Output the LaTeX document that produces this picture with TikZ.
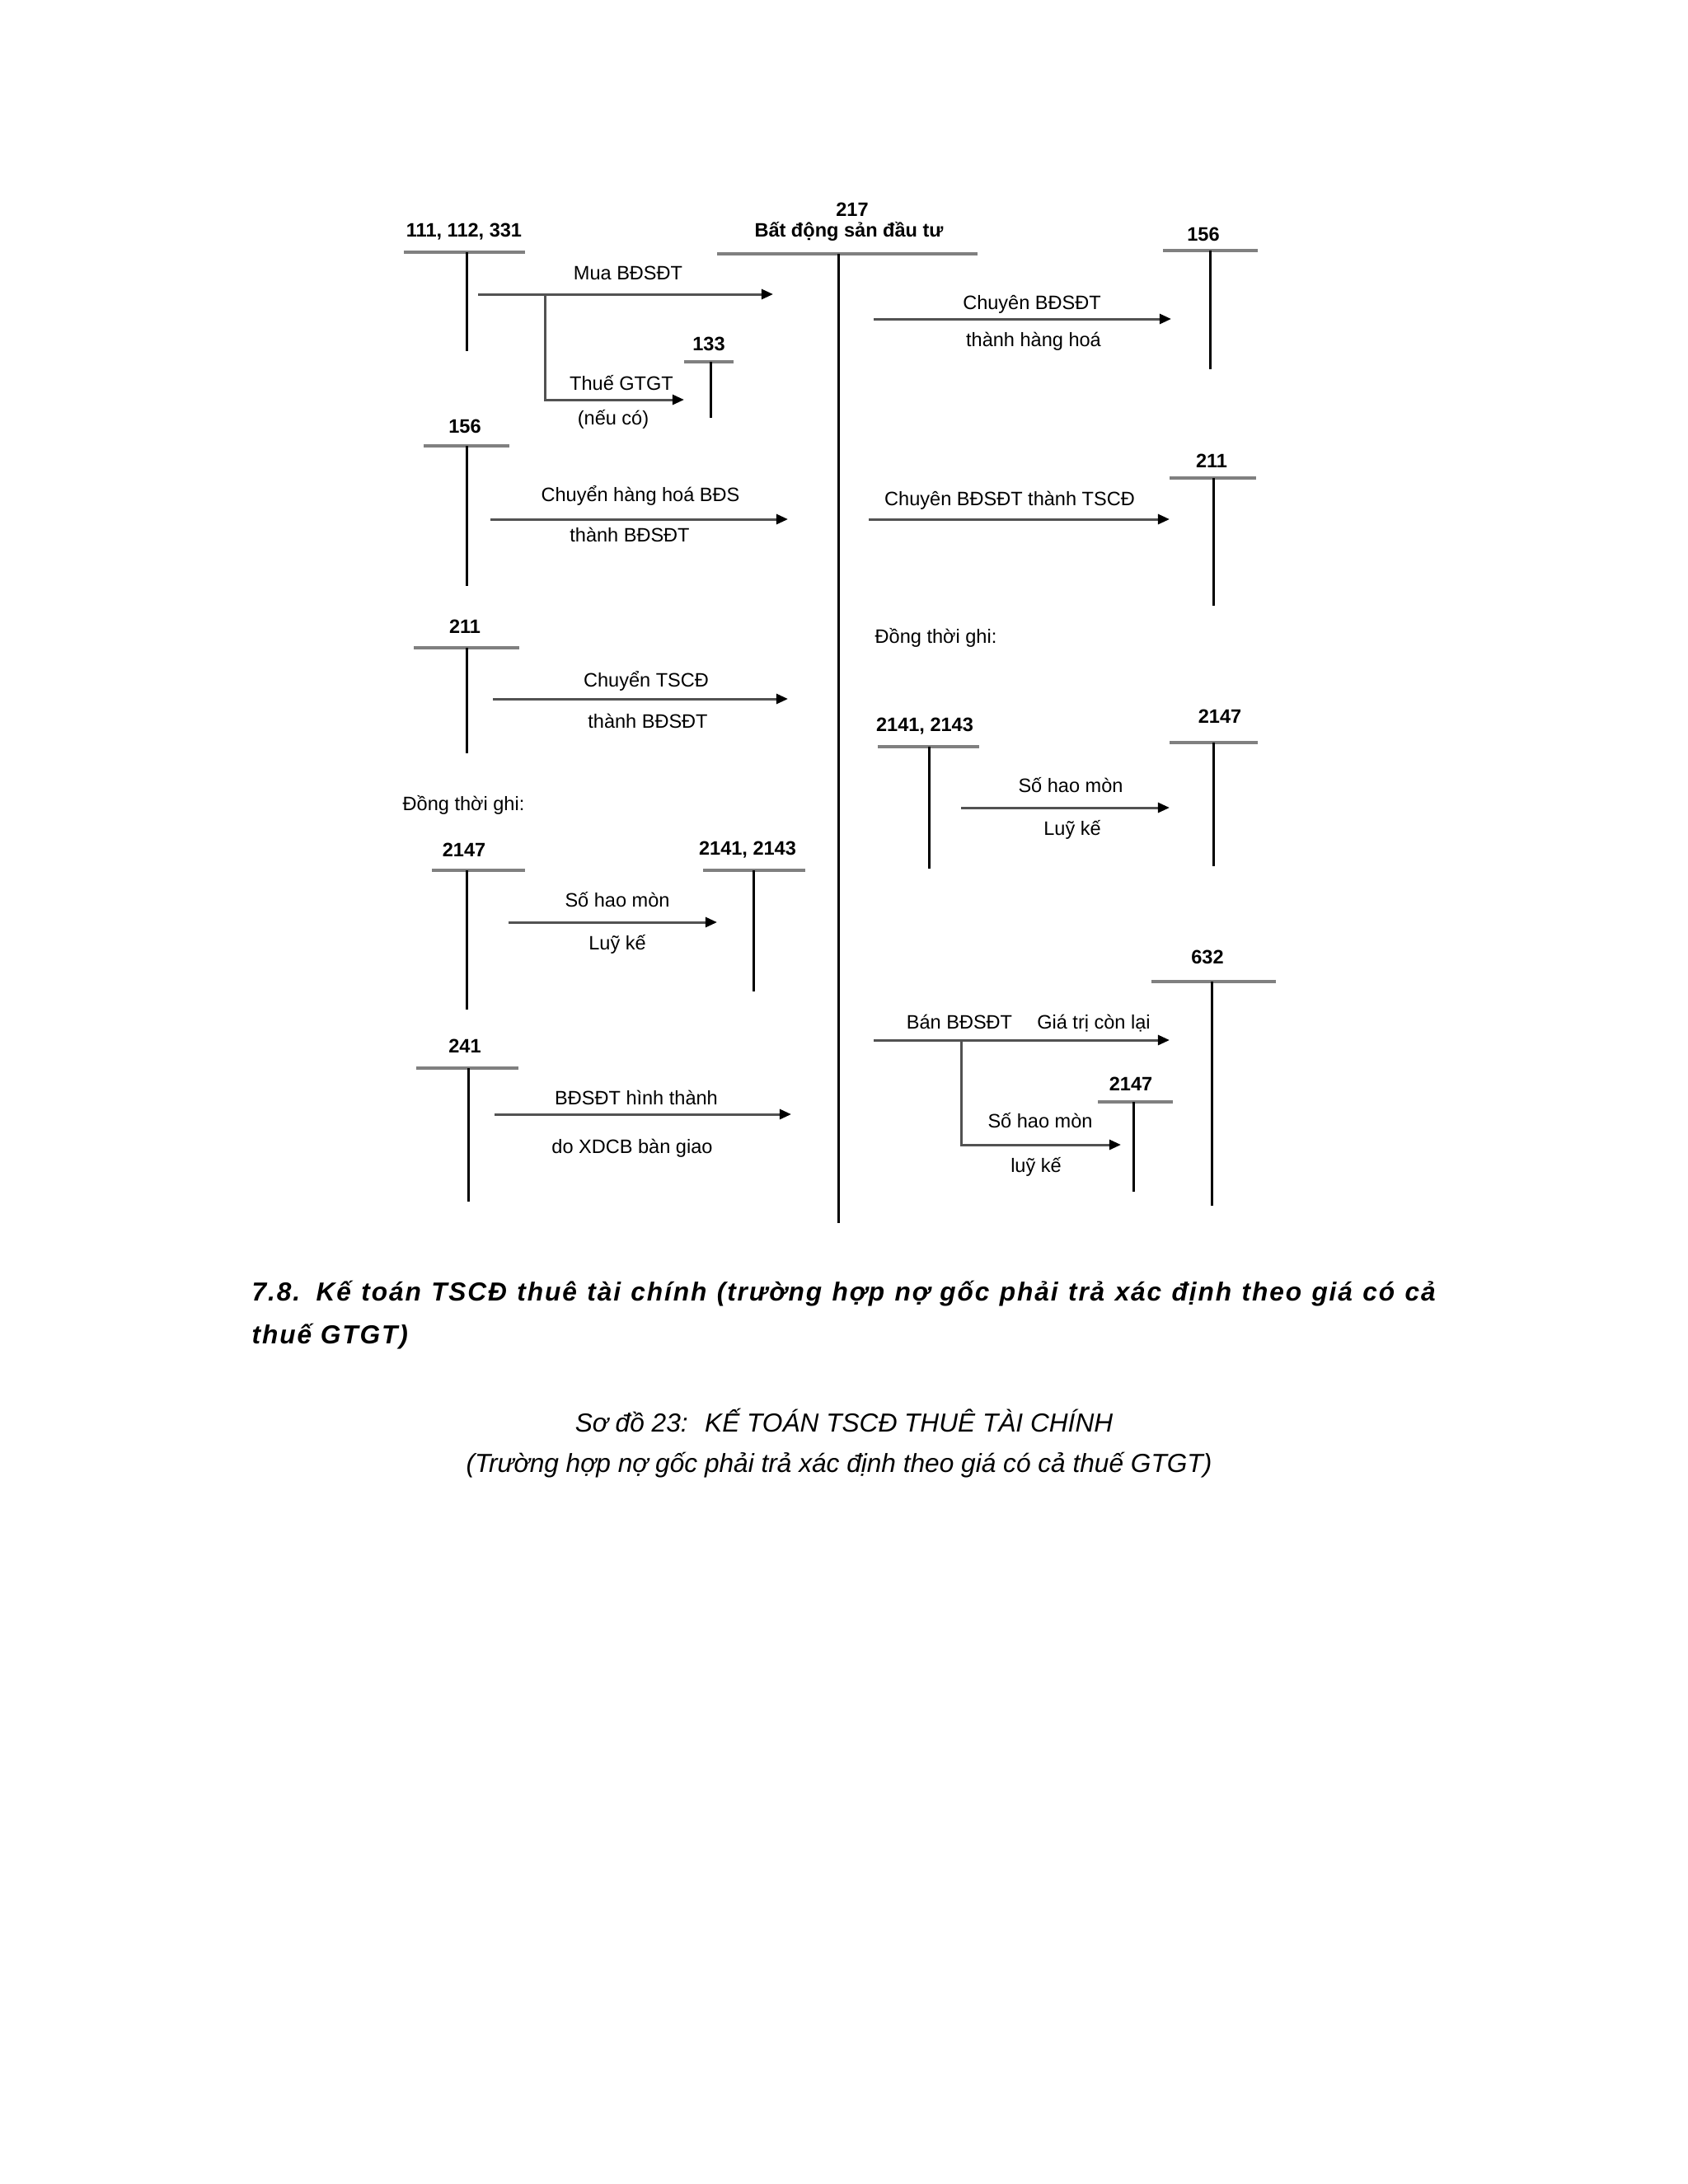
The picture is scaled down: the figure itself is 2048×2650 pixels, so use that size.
\documentclass[tikz,border=0pt]{standalone}
\usepackage{fontspec}
\setmainfont{Liberation Sans}
\newfontfamily\headfont[LetterSpace=6]{Liberation Sans}
\usetikzlibrary{arrows.meta}
% T-account: name, label, xleft, xright, xvert, ytop, ybottom, label x, label baseline y
\newcommand{\TAcc}[9]{%
  \coordinate (#1-l) at (#3,#6);
  \coordinate (#1-r) at (#4,#6);
  \coordinate (#1-t) at (#5,#6);
  \coordinate (#1-b) at (#5,#7);
  \draw[tline] (#1-l) -- (#1-r);
  \draw[vline] (#1-t) -- (#1-b);
  \node[acc] (#1-lab) at (#8,#9) {#2};
}
\begin{document}
\begin{tikzpicture}[x=0.1mm,y=-0.1mm,
  tline/.style={line width=1.1pt, draw=black!50},
  vline/.style={line width=0.85pt, draw=black},
  flow/.style={line width=0.85pt, draw=black!68, -{Triangle[length=4pt,width=3.4pt,color=black]}},
  acc/.style={inner sep=0pt, anchor=base, font=\fontsize{6.7pt}{8pt}\selectfont\bfseries},
  lbl/.style={inner sep=0pt, anchor=base, font=\fontsize{6.7pt}{8pt}\selectfont},
  lblw/.style={inner sep=0pt, anchor=base west, font=\fontsize{6.7pt}{8pt}\selectfont},
  head/.style={inner sep=0pt, anchor=base west, font=\headfont\bfseries\itshape\fontsize{9pt}{11pt}\selectfont},
  capt/.style={inner sep=0pt, anchor=base, font=\itshape\fontsize{9pt}{11pt}\selectfont},
]
\useasboundingbox (0,0) rectangle (2048,2650);

% ---------- central account 217 ----------
\TAcc{a217}{Bất động sản đầu tư}{870}{1186}{1017}{308}{1484}{1030}{287}
\node[acc] (a217-num) at (1034,262) {217};

% ---------- left column ----------
\TAcc{a111}{111, 112, 331}{490}{637}{566}{306}{426}{563}{287}
\TAcc{a133}{133}{830}{890}{862}{439}{507}{860}{425}
\TAcc{a156L}{156}{514}{618}{566}{541}{711}{564}{525}
\TAcc{a211L}{211}{502}{630}{566}{786}{914}{564}{768}
\TAcc{a2147L}{2147}{524}{637}{566}{1056}{1225}{563}{1039}
\TAcc{a2141L}{2141, 2143}{853}{977}{914}{1056}{1203}{907}{1037}
\TAcc{a241}{241}{505}{629}{568}{1296}{1458}{564}{1277}

% ---------- right column ----------
\TAcc{a156R}{156}{1411}{1526}{1468}{304}{448}{1460}{292}
\TAcc{a211R}{211}{1419}{1524}{1472}{580}{735}{1470}{567}
\TAcc{a2141R}{2141, 2143}{1065}{1188}{1127}{906}{1054}{1122}{887}
\TAcc{a2147R}{2147}{1419}{1526}{1472}{901}{1051}{1480}{877}
\TAcc{a632}{632}{1397}{1548}{1470}{1191}{1463}{1465}{1169}
\TAcc{a2147b}{2147}{1332}{1423}{1375}{1337}{1446}{1372}{1323}

% ---------- left arrows ----------
\coordinate (m1s) at (580,357); \coordinate (m1e) at (938,357);
\draw[flow] (m1s) -- (m1e);
\node[lbl] (m1a) at (762,339) {Mua BĐSĐT};
\coordinate (m1j) at (661,357); \coordinate (m1k) at (661,485); \coordinate (m1v) at (830,485);
\draw[flow] (m1j) -- (m1k) -- (m1v);
\node[lbl] (m1b) at (754,473) {Thuế GTGT};
\node[lbl] (m1c) at (744,515) {(nếu có)};

\coordinate (m2s) at (595,630); \coordinate (m2e) at (956,630);
\draw[flow] (m2s) -- (m2e);
\node[lbl] (m2a) at (777,608) {Chuyển hàng hoá BĐS};
\node[lbl] (m2b) at (764,657) {thành BĐSĐT};

\coordinate (m3s) at (598,848); \coordinate (m3e) at (956,848);
\draw[flow] (m3s) -- (m3e);
\node[lbl] (m3a) at (784,833) {Chuyển TSCĐ};
\node[lbl] (m3b) at (786,883) {thành BĐSĐT};

\node[lblw] (dtL) at (488,983) {Đồng thời ghi:};

\coordinate (m4s) at (617,1119); \coordinate (m4e) at (870,1119);
\draw[flow] (m4s) -- (m4e);
\node[lbl] (m4a) at (749,1100) {Số hao mòn};
\node[lbl] (m4b) at (749,1152) {Luỹ kế};

\coordinate (m5s) at (600,1352); \coordinate (m5e) at (960,1352);
\draw[flow] (m5s) -- (m5e);
\node[lbl] (m5a) at (772,1340) {BĐSĐT hình thành};
\node[lbl] (m5b) at (767,1399) {do XDCB bàn giao};

% ---------- right arrows ----------
\coordinate (r1s) at (1060,387); \coordinate (r1e) at (1421,387);
\draw[flow] (r1s) -- (r1e);
\node[lbl] (r1a) at (1252,375) {Chuyên BĐSĐT};
\node[lbl] (r1b) at (1254,420) {thành hàng hoá};

\coordinate (r2s) at (1054,630); \coordinate (r2e) at (1419,630);
\draw[flow] (r2s) -- (r2e);
\node[lbl] (r2a) at (1225,613) {Chuyên BĐSĐT thành TSCĐ};

\node[lblw] (dtR) at (1061,780) {Đồng thời ghi:};

\coordinate (r3s) at (1166,980); \coordinate (r3e) at (1419,980);
\draw[flow] (r3s) -- (r3e);
\node[lbl] (r3a) at (1299,961) {Số hao mòn};
\node[lbl] (r3b) at (1301,1013) {Luỹ kế};

\coordinate (r4s) at (1060,1262); \coordinate (r4e) at (1419,1262);
\draw[flow] (r4s) -- (r4e);
\node[lbl] (r4a) at (1164,1248) {Bán BĐSĐT};
\node[lbl] (r4b) at (1327,1248) {Giá trị còn lại};
\coordinate (r4j) at (1166,1262); \coordinate (r4k) at (1166,1389); \coordinate (r4v) at (1360,1389);
\draw[flow] (r4j) -- (r4k) -- (r4v);
\node[lbl] (r4c) at (1262,1368) {Số hao mòn};
\node[lbl] (r4d) at (1257,1422) {luỹ kế};

% ---------- text below ----------
\node[head] (h1) at (305,1578) {\makebox[408.6pt][s]{7.8. Kế toán TSCĐ thuê tài chính (trường hợp nợ gốc phải trả xác định theo giá có cả}};
\node[head] (h2) at (305,1630) {thuế GTGT)};
\node[capt] (c1) at (1024,1737) {Sơ đồ 23:~ KẾ TOÁN TSCĐ THUÊ TÀI CHÍNH};
\node[capt] (c2) at (1018,1786) {(Trường hợp nợ gốc phải trả xác định theo giá có cả thuế GTGT)};
\end{tikzpicture}
\end{document}
